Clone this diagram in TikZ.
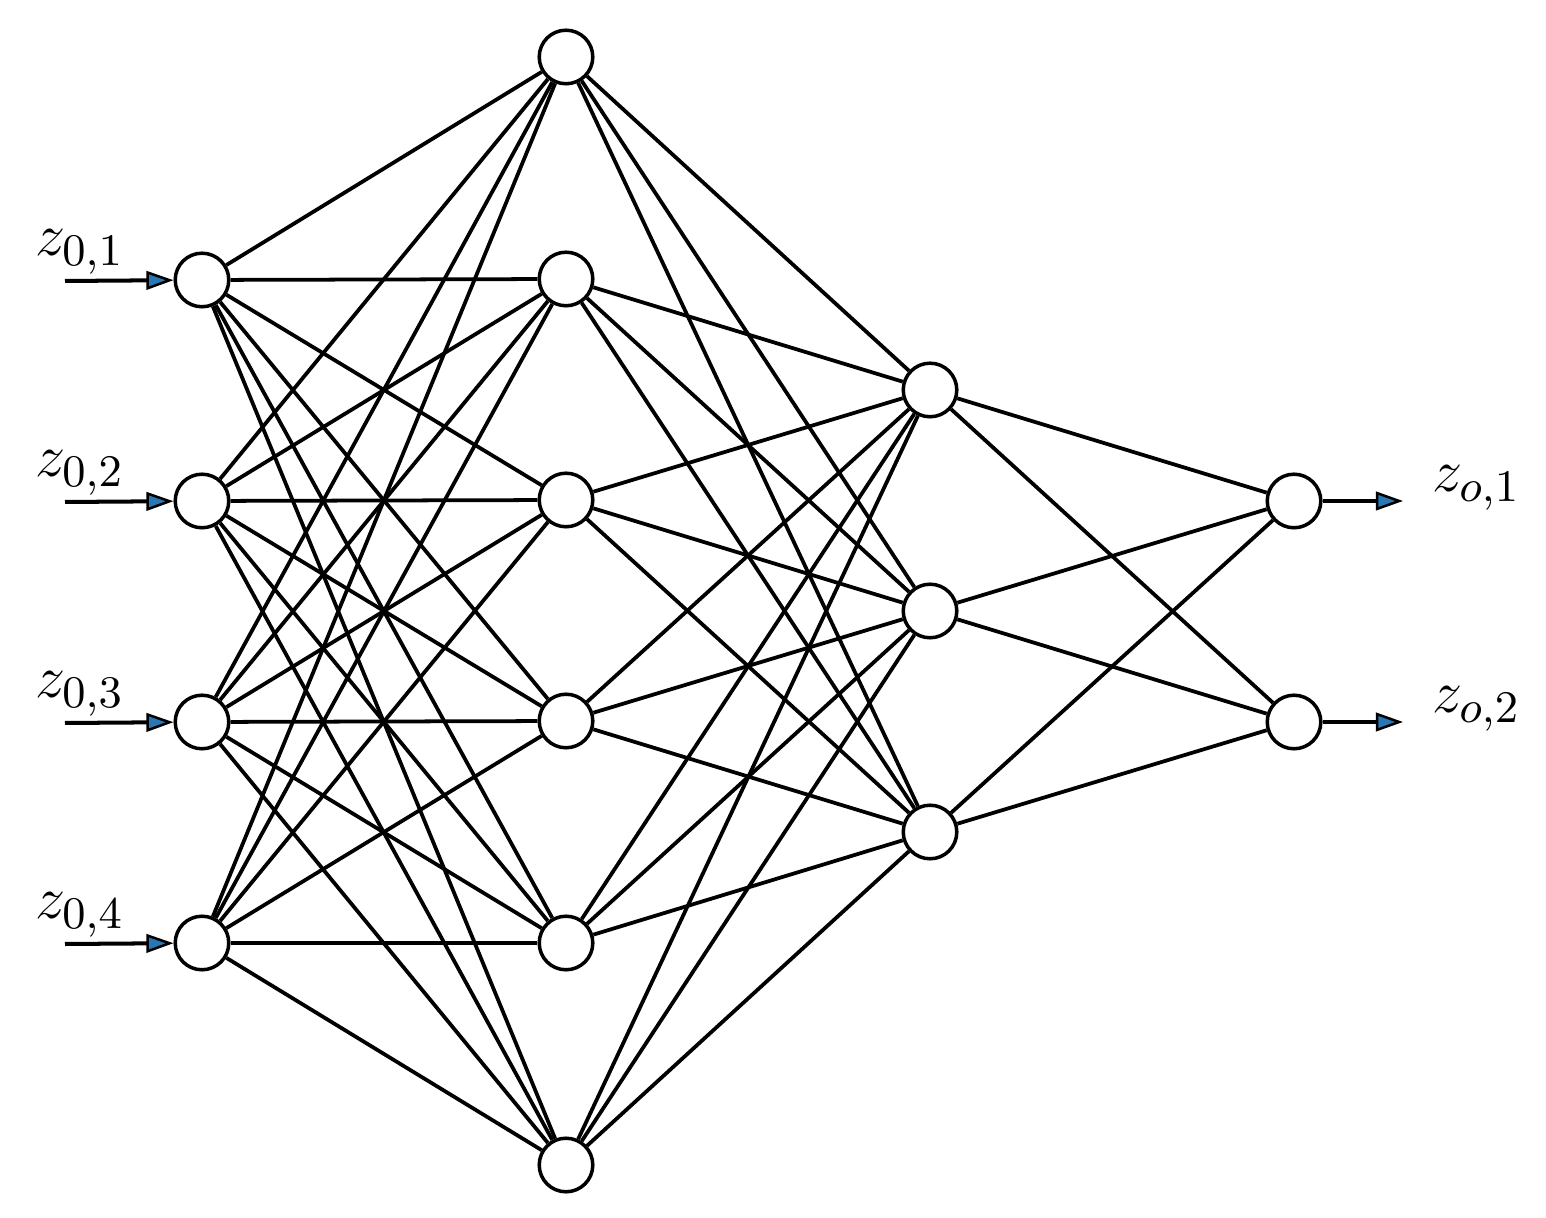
\documentclass[tikz,border=0pt]{standalone}
\usetikzlibrary{arrows.meta}
\definecolor{tipblue}{HTML}{2878B5}
\begin{document}
\begin{tikzpicture}[x=0.07mm,y=-0.07mm,
  neuron/.style={circle,draw=black,fill=white,line width=0.7pt,inner sep=0pt,minimum size=3.75mm},
  edge/.style={line width=0.75pt,black},
  io/.style={line width=0.8pt,black,-{Triangle[length=1.9mm,width=1.3mm,fill=tipblue,line width=0.5pt]}},
  lbl/.style={anchor=base west,inner sep=0pt,font=\fontsize{12.5}{15}\selectfont}]
\useasboundingbox (0,0) rectangle (1546,1218);
% layer 0
\foreach \i/\y in {1/280,2/501,3/722,4/943} {
  \node[neuron] (a\i) at (202,\y) {};
}
% layer 1
\foreach \i/\y in {1/57,2/279,3/500,4/721,5/943,6/1165} {
  \node[neuron] (b\i) at (566,\y) {};
}
% layer 2
\foreach \i/\y in {1/390,2/611,3/832} {
  \node[neuron] (c\i) at (930,\y) {};
}
% output
\foreach \i/\y in {1/501,2/722} {
  \node[neuron] (d\i) at (1294,\y) {};
}
% edges
\foreach \i in {1,...,4} \foreach \j in {1,...,6} \draw[edge] (a\i) -- (b\j);
\foreach \i in {1,...,6} \foreach \j in {1,...,3} \draw[edge] (b\i) -- (c\j);
\foreach \i in {1,...,3} \foreach \j in {1,2} \draw[edge] (c\i) -- (d\j);
% inputs
\foreach \i/\y in {1/281,2/502,3/723,4/944} {
  \coordinate (in\i) at (65,\y);
  \draw[io] (in\i) -- (a\i);
  \node[lbl] (l\i) at (34,\y-25) {$z_{0,\i}$};
}
% outputs
\foreach \i/\y in {1/501,2/722} {
  \coordinate (out\i) at (1403,\y);
  \draw[io] (d\i) -- (out\i);
  \node[lbl] (o\i) at (1431,\y-9) {$z_{o,\i}$};
}
\end{tikzpicture}
\end{document}
